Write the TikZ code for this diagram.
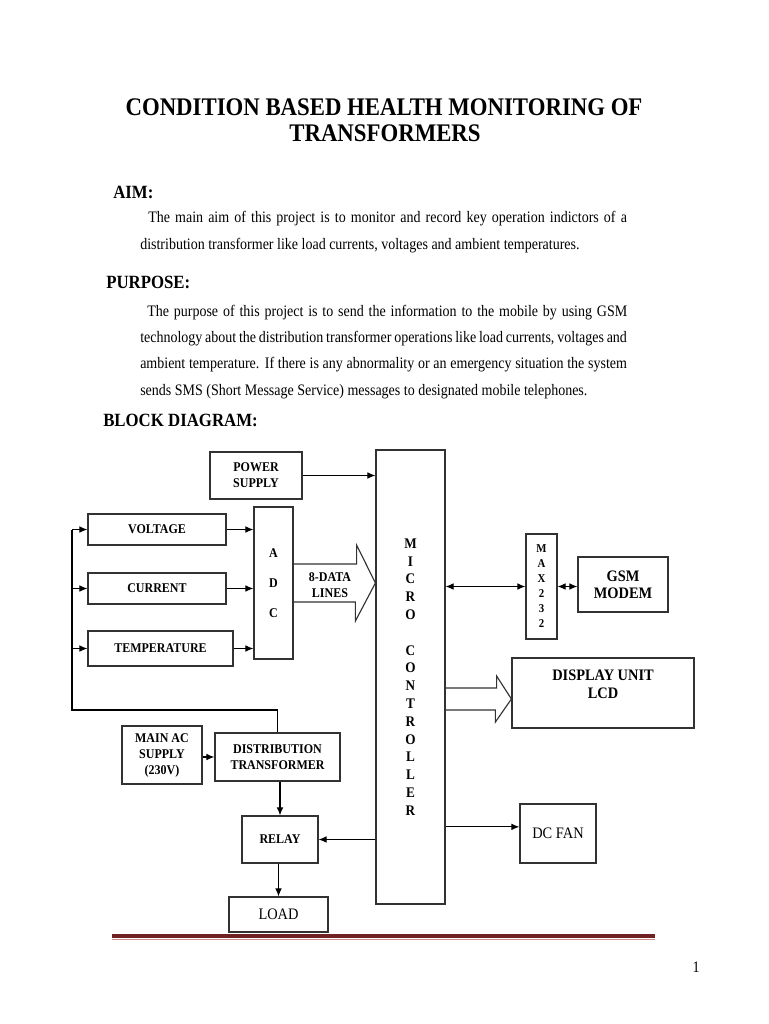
\documentclass[tikz,border=0pt]{standalone}
\usepackage{fontspec}
\setmainfont{Liberation Serif}[FakeStretch=0.9]
\newfontfamily\bodyfont{Liberation Serif}[FakeStretch=0.875]
\usepackage{tikz}
\usetikzlibrary{positioning,arrows.meta,calc}
\definecolor{bdGray}{RGB}{50,50,50}
\definecolor{bdRed}{RGB}{112,34,34}
\definecolor{bdPink}{RGB}{205,140,140}
\newcommand{\jline}[2]{\makebox[#1][s]{#2}}

\begin{document}
\begin{tikzpicture}[x=0.75pt, y=-0.75pt,
  blk/.style={draw=bdGray, line width=0.9pt, inner sep=0pt, align=center, font=\fontsize{10}{12}\selectfont\bfseries},
  plainblk/.style={draw=bdGray, line width=0.9pt, inner sep=0pt, font=\fontsize{12}{14}\selectfont},
  arr/.style={-{Latex[length=6pt,width=5pt]}, line width=0.8pt},
  darr/.style={{Latex[length=6pt,width=5pt]}-{Latex[length=6pt,width=5pt]}, line width=0.8pt},
  wire/.style={line width=0.8pt},
  fat/.style={draw=bdGray, line width=0.85pt, line join=miter},
  body/.style={inner sep=0pt, anchor=base west, font=\fontsize{12}{14}\selectfont\bodyfont},
  head/.style={inner sep=0pt, anchor=base west, font=\fontsize{14}{17}\selectfont\bfseries},
  ttl/.style={inner sep=0pt, anchor=base, font=\fontsize{19}{23}\selectfont\bfseries}]

  % Page
  \fill[white] (0,0) rectangle (768,1024);
  \useasboundingbox (0,0) rectangle (768,1024);

  % Title and text
  \node[ttl] (title1) at (384,115) {CONDITION BASED HEALTH MONITORING OF};
  \node[ttl] (title2) at (385,142) {TRANSFORMERS};

  \node[head] (aim) at (113,198) {AIM:};
  \node[body] (aim1) at (148,222) {\jline{359pt}{The main aim of this project is to monitor and record key operation indictors of a}};
  \node[body] (aim2) at (140,249) {distribution transformer like load currents, voltages and ambient temperatures.};

  \node[head] (purp) at (106,288) {PURPOSE:};
  \node[body] (purp1) at (147,316) {\jline{360pt}{The purpose of this project is to send the information to the mobile by using GSM}};
  \node[body] (purp2) at (140,342) {\jline{365pt}{technology about the distribution transformer operations like load currents, voltages and}};
  \node[body] (purp3) at (140,368) {\jline{365pt}{ambient temperature. If there is any abnormality or an emergency situation the system}};
  \node[body] (purp4) at (140,395) {sends SMS (Short Message Service) messages to designated mobile telephones.};

  \node[head] (bd) at (103,426) {BLOCK DIAGRAM:};

  % Blocks
  \node[blk, minimum width=69pt, minimum height=35.25pt] (ps) at (256,475.5) {POWER\\SUPPLY};
  \node[blk, minimum width=51.75pt, minimum height=340.5pt,
        font=\fontsize{11}{13.35}\selectfont\bfseries] (mc) at (410.5,677)
        {M\\I\\C\\R\\O\\[13.35pt]C\\O\\N\\T\\R\\O\\L\\L\\E\\R};
  \node[blk, minimum width=103.5pt, minimum height=23.25pt] (volt) at (157,529.5) {VOLTAGE};
  \node[blk, minimum width=103.5pt, minimum height=23.25pt] (curr) at (157,588.5) {CURRENT};
  \node[blk, minimum width=108.75pt, minimum height=26.25pt] (temp) at (160.5,648.5) {TEMPERATURE};
  \node[blk, minimum width=29.25pt, minimum height=114pt,
        font=\fontsize{10}{22.5}\selectfont\bfseries] (adc) at (273.5,583) {A\\D\\C};
  \node[blk, minimum width=23.25pt, minimum height=78.75pt,
        font=\fontsize{9}{11.25}\selectfont\bfseries] (max) at (541.5,586.5) {M\\A\\X\\2\\3\\2};
  \node[blk, minimum width=67.5pt, minimum height=41.25pt,
        font=\fontsize{12}{12.5}\selectfont\bfseries] (gsm) at (623,584.5) {GSM\\MODEM};
  \node[blk, minimum width=136.5pt, minimum height=52.5pt,
        label={[anchor=north, yshift=-6pt, align=center, font=\fontsize{12}{13.5}\selectfont\bfseries]north:DISPLAY UNIT\\LCD}] (lcd) at (603,693) {};
  \node[blk, minimum width=60pt, minimum height=43.5pt] (mainac) at (162,755) {MAIN AC\\SUPPLY\\(230V)};
  \node[blk, minimum width=93.75pt, minimum height=36pt] (dt) at (277.5,757) {DISTRIBUTION\\TRANSFORMER};
  \node[blk, minimum width=57pt, minimum height=35.25pt] (relay) at (280,839.5) {RELAY};
  \node[plainblk, minimum width=74.25pt, minimum height=26.25pt] (load) at (278.5,914.5) {LOAD};
  \node[plainblk, minimum width=57pt, minimum height=44.25pt] (fan) at (558,833.5) {DC FAN};

  % Connectors
  \draw[arr] (ps.east) -- (ps.east -| mc.west);
  \draw[arr] (volt.east) -- (volt.east -| adc.west);
  \draw[arr] (curr.east) -- (curr.east -| adc.west);
  \draw[arr] (temp.east) -- (temp.east -| adc.west);

  % Feedback from transformer to the sensors
  \coordinate (fb) at (72,710);
  \draw[wire] (dt.north) |- (fb) -- (fb |- volt.west);
  \draw[arr] (fb |- volt.west) -- (volt.west);
  \draw[arr] (fb |- curr.west) -- (curr.west);
  \draw[arr] (fb |- temp.west) -- (temp.west);

  \draw[arr] (mainac.east |- dt.west) -- (dt.west);
  \draw[arr] (relay.north |- dt.south) -- (relay.north);
  \draw[arr] (mc.west |- relay.east) -- (relay.east);
  \draw[arr] (load.north |- relay.south) -- (load.north);
  \draw[darr] (max.west -| mc.east) -- (max.west);
  \draw[darr] (max.east) -- (max.east -| gsm.west);
  \draw[arr] ([yshift=5pt]fan.west -| mc.east) -- ([yshift=5pt]fan.west);

  % Data bus arrows
  \coordinate (dtip) at (mc.west |- adc.east);
  \draw[fat] (adc.east) ++(0,-19) -- ++(63,0) -- ++(0,-19) -- (dtip) -- ++(-20,38) -- ++(0,-19) -- ++(-63,0);
  \node[inner sep=0pt, align=center, font=\fontsize{10}{11.5}\selectfont\bfseries] (dl) at (330,585) {8-DATA\\LINES};

  \coordinate (ltip) at ([yshift=-4.5pt]lcd.west);
  \draw[fat] (ltip -| mc.east) ++(0,-11) -- ++(51,0) -- ++(0,-12) -- (ltip) -- ++(-16,23) -- ++(0,-12) -- ++(-51,0);

  % Footer
  \draw[bdRed, line width=3.3pt] (112,936) -- (655,936);
  \draw[bdPink, line width=0.8pt] (112,939.6) -- (655,939.6);
  \node[body, anchor=base] (pg) at (696,972) {1};
\end{tikzpicture}
\end{document}
